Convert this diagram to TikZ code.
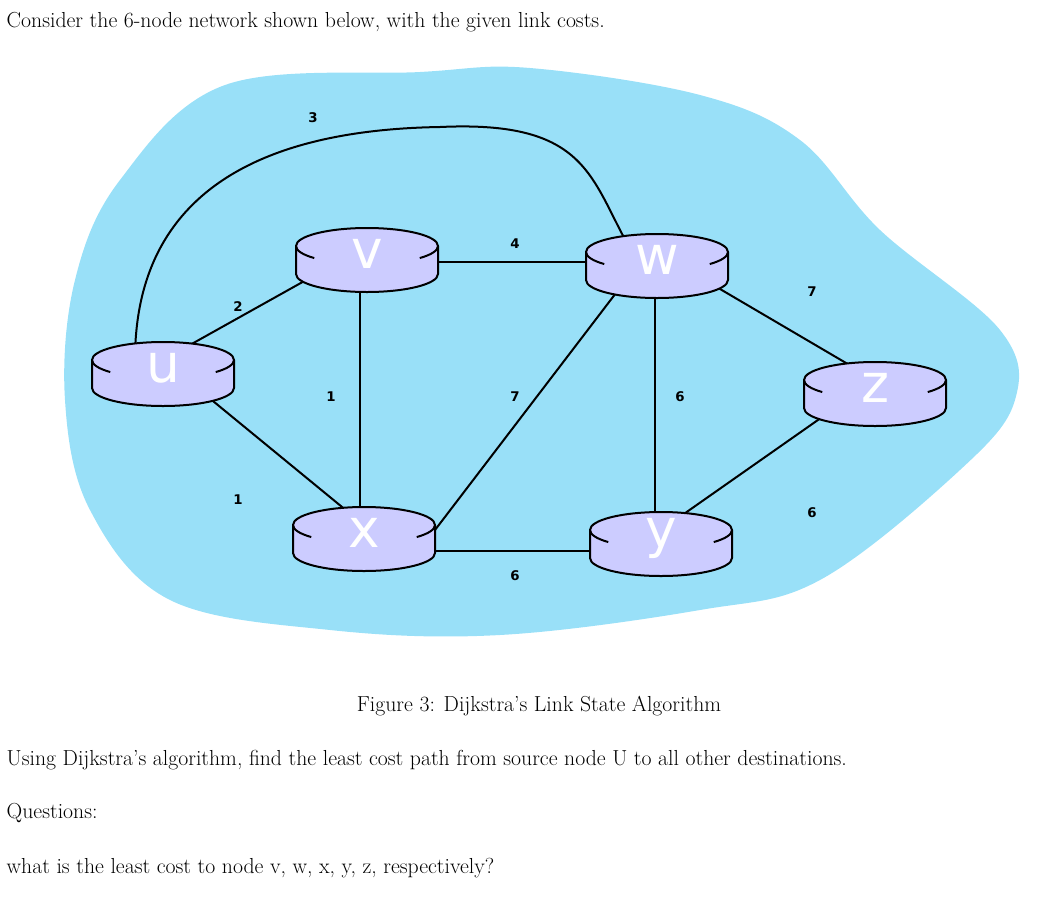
\documentclass[tikz,border=0pt]{standalone}
\usepackage{fontspec}
\newfontfamily\routerfont{DejaVu Sans}
\usetikzlibrary{calc}
\definecolor{cloudblue}{HTML}{99E0F8}
\definecolor{routerfill}{HTML}{CCCCFF}

\tikzset{
  link/.style={line width=1.5pt},
  cost/.style={font=\routerfont\bfseries\fontsize{10}{10}\selectfont},
  textline/.style={anchor=west,font=\fontsize{16.3}{18}\selectfont},
  pics/router/.style={code={
    \draw[line width=1.5pt,fill=routerfill]
      (-71,0) -- (-71,28) arc[start angle=180,end angle=0,x radius=71,y radius=18]
      -- (71,0) arc[start angle=0,end angle=-180,x radius=71,y radius=18] -- cycle;
    \draw[line width=1.5pt] (-71,0) arc[start angle=180,end angle=138,x radius=71,y radius=18];
    \draw[line width=1.5pt] (71,0) arc[start angle=0,end angle=42,x radius=71,y radius=18];
    \node[white,font=\routerfont\fontsize{40}{40}\selectfont] at (0,8) {#1};
  }}
}

\begin{document}
\begin{tikzpicture}[x=0.75pt,y=-0.75pt]
\useasboundingbox (0,0) rectangle (1040,904);

% cloud
\fill[cloudblue] plot[smooth cycle,tension=0.6] coordinates {
  (225,85) (420,72) (530,68) (700,95) (800,140) (880,230) (1000,330)
  (1015,400) (960,470) (820,580) (700,610) (500,635) (330,630) (170,600)
  (90,510) (65,400) (75,280) (120,180)};

% router positions (centre of the top face)
\coordinate (u) at (163,360);
\coordinate (v) at (367,246);
\coordinate (w) at (657,252);
\coordinate (x) at (364,525);
\coordinate (y) at (661,530);
\coordinate (z) at (875,380);

% links
\draw[link] (u) -- (v);
\draw[link] (u) -- (x);
\draw[link] ($(v)+(0,16)$) -- ($(w)+(0,10)$);
\draw[link] ($(v)+(-7,0)$) -- ($(x)+(-4,0)$);
\draw[link] ($(x)+(71,5)$) -- ($(w)+(-25,20)$);
\draw[link] ($(x)+(0,26)$) -- ($(y)+(0,21)$);
\draw[link] ($(w)+(-2,0)$) -- ($(y)+(-6,0)$);
\draw[link] (w) -- (z);
\draw[link] (y) -- (z);
\draw[link] ($(u)+(-28,0)$) .. controls (135,200) and (250,130) .. (440,127)
  .. controls (590,120) and (590,180) .. ($(w)+(-25,0)$);

% routers
\foreach \r in {u,v,w,x,y,z}
  \pic at (\r) {router=\r};

% link costs
\node[cost] at (313,118) {3};
\node[cost] at (515,244) {4};
\node[cost] at (238,307) {2};
\node[cost] at (812,292) {7};
\node[cost] at (331,397) {1};
\node[cost] at (515,397) {7};
\node[cost] at (680,397) {6};
\node[cost] at (238,500) {1};
\node[cost] at (812,513) {6};
\node[cost] at (515,576) {6};

% text
\node[textline] at (2,22) {Consider the 6-node network shown below, with the given link costs.};
\node[font=\fontsize{16.3}{18}\selectfont] at (539,706) {Figure 3: Dijkstra's Link State Algorithm};
\node[textline] at (2,760) {Using Dijkstra's algorithm, find the least cost path from source node U to all other destinations.};
\node[textline] at (2,813) {Questions:};
\node[textline] at (2,868) {what is the least cost to node v, w, x, y, z, respectively?};
\end{tikzpicture}
\end{document}
